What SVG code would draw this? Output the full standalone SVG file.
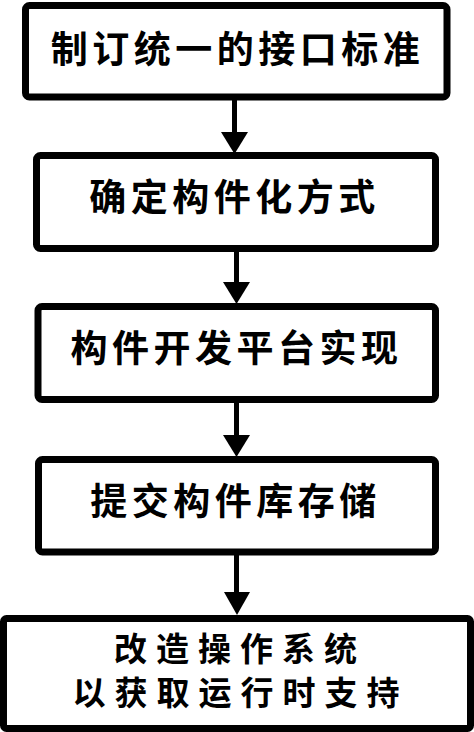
<svg xmlns="http://www.w3.org/2000/svg" width="474" height="732" viewBox="0 0 474 732">
<style>
.box{fill:#fff;stroke:#000;stroke-width:7;}
.lbl{font-family:"Noto Sans CJK SC","Noto Sans CJK JP",sans-serif;font-weight:700;font-size:37px;letter-spacing:4.5px;fill:#000;text-anchor:middle;}
.lbl2{font-family:"Noto Sans CJK SC","Noto Sans CJK JP",sans-serif;font-weight:700;font-size:33px;letter-spacing:9px;fill:#000;text-anchor:middle;}
.shaft{stroke:#000;stroke-width:5;fill:none;}
.head{fill:#000;stroke:none;}
</style>
<rect width="474" height="732" fill="#fff"/>
<g id="connectors">
<line class="shaft" x1="234.5" y1="98" x2="234.5" y2="134"/>
<polygon class="head" points="221,132 248,132 234.5,154"/>
<line class="shaft" x1="236.5" y1="250" x2="236.5" y2="284"/>
<polygon class="head" points="223,282 250,282 236.5,304"/>
<line class="shaft" x1="236.5" y1="401" x2="236.5" y2="437"/>
<polygon class="head" points="223,435 250,435 236.5,457"/>
<line class="shaft" x1="236.5" y1="554" x2="236.5" y2="594"/>
<polygon class="head" points="224,592 250,592 237,615"/>
</g>
<g id="node1">
<rect class="box" x="25.5" y="5.5" width="421.5" height="91.5" rx="4"/>
<text class="lbl" x="237.5" y="62.5">制订统一的接口标准</text>
</g>
<g id="node2">
<rect class="box" x="36.5" y="155.5" width="399" height="93" rx="4"/>
<text class="lbl" x="234.5" y="211">确定构件化方式</text>
</g>
<g id="node3">
<rect class="box" x="38" y="306.5" width="397.5" height="93" rx="4"/>
<text class="lbl" x="236.5" y="362">构件开发平台实现</text>
</g>
<g id="node4">
<rect class="box" x="38.5" y="459.5" width="397" height="92.5" rx="4"/>
<text class="lbl" x="235.5" y="515">提交构件库存储</text>
</g>
<g id="node5">
<rect class="box" x="3.5" y="618.5" width="467" height="110" rx="3"/>
<text class="lbl2" x="240" y="661">改造操作系统</text>
<text class="lbl2" x="240.5" y="705">以获取运行时支持</text>
</g>
</svg>
